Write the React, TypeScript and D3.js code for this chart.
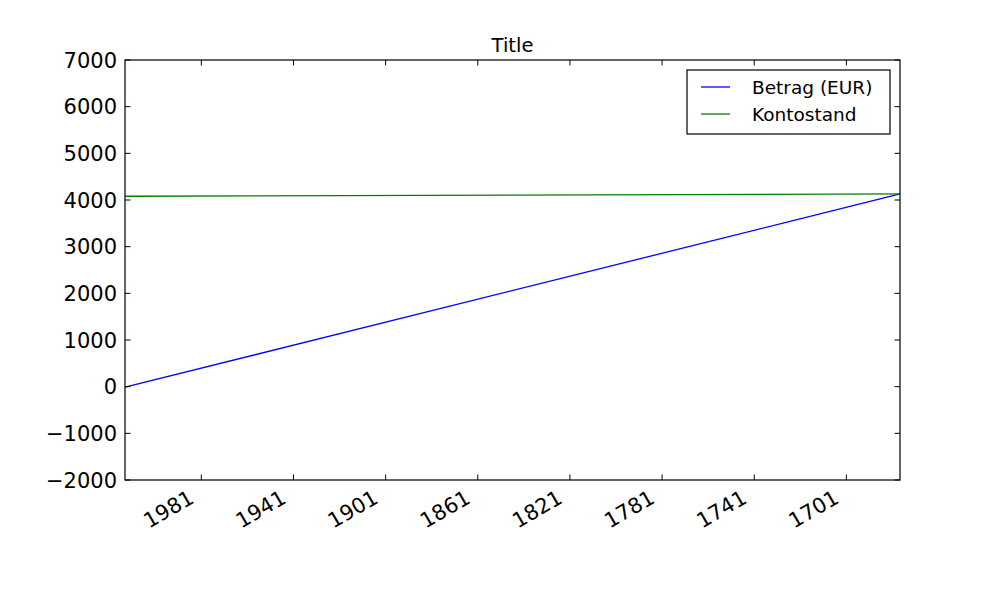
import React from "react";
import * as d3 from "d3";

const dates: string[] = ["2014-02-20", "1677-09-21"];
const betrag: number[] = [-10, 4130];
const kontostand: number[] = [4080, 4130];
const seriesNames: string[] = ["Betrag (EUR)", "Kontostand"];
const seriesColors: string[] = ["#0000ff", "#008000"];
const xTickYears: number[] = [1981, 1941, 1901, 1861, 1821, 1781, 1741, 1701];
const yTicks: number[] = [-2000, -1000, 0, 1000, 2000, 3000, 4000, 5000, 6000, 7000];
const title = "Title";

const W = 1000;
const H = 600;
const M = { left: 125, right: 900, top: 60, bottom: 480 };
const FONT = "'DejaVu Sans', sans-serif";

export default function App() {
  const parsed = dates.map((d) => new Date(d + "T00:00:00Z"));
  const x = d3
    .scaleUtc()
    .domain([parsed[0], parsed[parsed.length - 1]])
    .range([M.left, M.right]);
  const y = d3.scaleLinear().domain([-2000, 7000]).range([M.bottom, M.top]);

  const line = d3
    .line<[Date, number]>()
    .x((d) => x(d[0]))
    .y((d) => y(d[1]));

  const series = [betrag, kontostand].map((vals) =>
    vals.map((v, i) => [parsed[i], v] as [Date, number])
  );

  const tickLen = 5.5;
  const xTicks = xTickYears.map((yr) => new Date(Date.UTC(yr, 0, 1)));

  return (
    <svg
      width={W}
      height={H}
      style={{ position: "absolute", left: 0, top: 0, background: "#fff" }}
      fontFamily={FONT}
    >
      <rect x={0} y={0} width={W} height={H} fill="#fff" />
      <text x={(M.left + M.right) / 2} y={52} textAnchor="middle" fontSize={19.5} fill="#000">
        {title}
      </text>
      {series.map((s, i) => (
        <path key={i} d={line(s) || ""} fill="none" stroke={seriesColors[i]} strokeWidth={1.3} />
      ))}
      {/* y ticks */}
      {yTicks.map((t) => (
        <g key={"y" + t}>
          <line x1={M.left} x2={M.left + tickLen} y1={y(t)} y2={y(t)} stroke="#000" />
          <line x1={M.right} x2={M.right - tickLen} y1={y(t)} y2={y(t)} stroke="#000" />
          <text x={M.left - 8} y={y(t)} dy="0.36em" textAnchor="end" fontSize={21} fill="#000">
            {t < 0 ? "\u2212" + Math.abs(t) : String(t)}
          </text>
        </g>
      ))}
      {/* x ticks */}
      {xTicks.map((t, i) => {
        const px = x(t);
        return (
          <g key={"x" + i}>
            <line x1={px} x2={px} y1={M.bottom} y2={M.bottom - tickLen} stroke="#000" />
            <line x1={px} x2={px} y1={M.top} y2={M.top + tickLen} stroke="#000" />
            <text
              transform={`translate(${px - 6},${502}) rotate(-30)`}
              textAnchor="end"
              fontSize={21}
              fill="#000"
            >
              {d3.utcFormat("%Y")(t)}
            </text>
          </g>
        );
      })}
      <rect
        x={M.left}
        y={M.top}
        width={M.right - M.left}
        height={M.bottom - M.top}
        fill="none"
        stroke="#000"
        strokeWidth={1.2}
      />
      {/* legend */}
      <g>
        <rect x={687} y={70} width={203} height={64} fill="#fff" stroke="#000" strokeWidth={1.2} />
        {seriesNames.map((n, i) => (
          <g key={n}>
            <line
              x1={701}
              x2={730}
              y1={87 + i * 27}
              y2={87 + i * 27}
              stroke={seriesColors[i]}
              strokeWidth={1.3}
            />
            <text x={752} y={87 + i * 27} dy="0.36em" fontSize={18.5} fill="#000">
              {n}
            </text>
          </g>
        ))}
      </g>
    </svg>
  );
}
